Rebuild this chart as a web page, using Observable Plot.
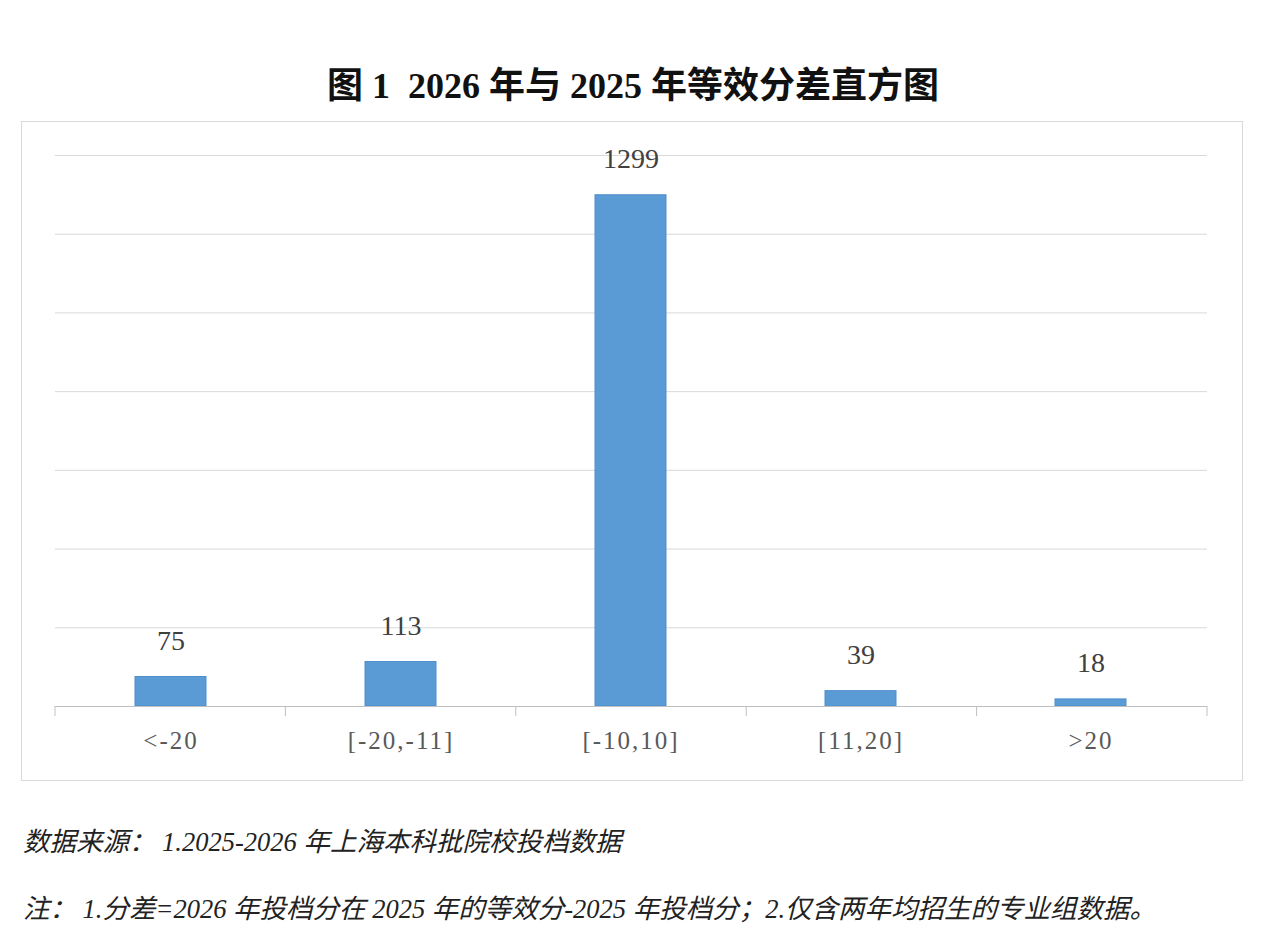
<!DOCTYPE html>
<html>
<head>
<meta charset="utf-8">
<script src="https://cdn.jsdelivr.net/npm/d3@7"></script>
<script src="https://cdn.jsdelivr.net/npm/@observablehq/plot@0.6"></script>
<style>
  html, body { margin: 0; padding: 0; background: #fff; }
  body { width: 1266px; height: 928px; position: relative; overflow: hidden; }
  #title { position: absolute; left: 0; width: 1266px; top: 63px; text-align: center;
    font-family: "Liberation Serif", "Noto Sans CJK SC", serif; font-weight: bold; font-size: 36px; color: #111; line-height: 46px; }
  #chart { position: absolute; left: 21px; top: 121px; width: 1220px; height: 658px; border: 1px solid #d9d9d9; }
  #chart svg { display: block; }
  #chart g[aria-label="x-axis tick label"] text { letter-spacing: 2px; }
  .cap { position: absolute; left: 23px; font-family: "Liberation Serif", "Noto Sans CJK SC", serif; font-style: italic;
    font-size: 26.5px; color: #222; line-height: 32px; white-space: nowrap; }
</style>
</head>
<body>
<div id="title">图 1&nbsp; 2026 年与 2025 年等效分差直方图</div>
<div id="chart"></div>
<div class="cap" style="top:826px">数据来源： 1.2025-2026 年上海本科批院校投档数据</div>
<div class="cap" style="top:893px">注： 1.分差=2026 年投档分在 2025 年的等效分-2025 年投档分；2.仅含两年均招生的专业组数据。</div>
<script>
const categories = ["<-20", "[-20,-11]", "[-10,10]", "[11,20]", ">20"];
const counts = [75, 113, 1299, 39, 18];
const yTicks = [0, 200, 400, 600, 800, 1000, 1200, 1400];

const data = categories.map((c, i) => ({category: c, count: counts[i]}));

const boundaryTicks = (index, scales, values, dims) => {
  const g = d3.create("svg:g");
  const x0 = dims.marginLeft, x1 = dims.width - dims.marginRight;
  const n = categories.length;
  const y0 = scales.y(0);
  for (let i = 0; i <= n; i++) {
    const x = x0 + (x1 - x0) * i / n;
    g.append("line").attr("x1", x).attr("x2", x).attr("y1", y0).attr("y2", y0 + 10)
      .attr("stroke", "#bfbfbf").attr("stroke-width", 1);
  }
  return g.node();
};

const chart = Plot.plot({
  width: 1220,
  height: 658,
  marginLeft: 33,
  marginRight: 35,
  marginTop: 33,
  marginBottom: 74,
  style: {fontFamily: "'Liberation Serif', serif", background: "#fff"},
  x: {domain: categories, paddingInner: 0.69, paddingOuter: 0.345, axis: null},
  y: {domain: [0, 1400], axis: null},
  marks: [
    Plot.gridY(yTicks, {stroke: "#d9d9d9", strokeOpacity: 1}),
    Plot.barY(data, {x: "category", y: "count", fill: "#5b9bd5", stroke: "#4f8fcc", strokeWidth: 1}),
    Plot.ruleY([0], {stroke: "#bfbfbf"}),
    boundaryTicks,
    Plot.text(data, {x: "category", y: "count", text: d => String(d.count), dy: -36,
      lineAnchor: "middle", fontSize: 28, fill: "#404040"}),
    Plot.axisX({tickSize: 0, tickPadding: 25, fontSize: 25, fill: "#595959", label: null})
  ]
});
document.getElementById("chart").appendChild(chart);
</script>
</body>
</html>
